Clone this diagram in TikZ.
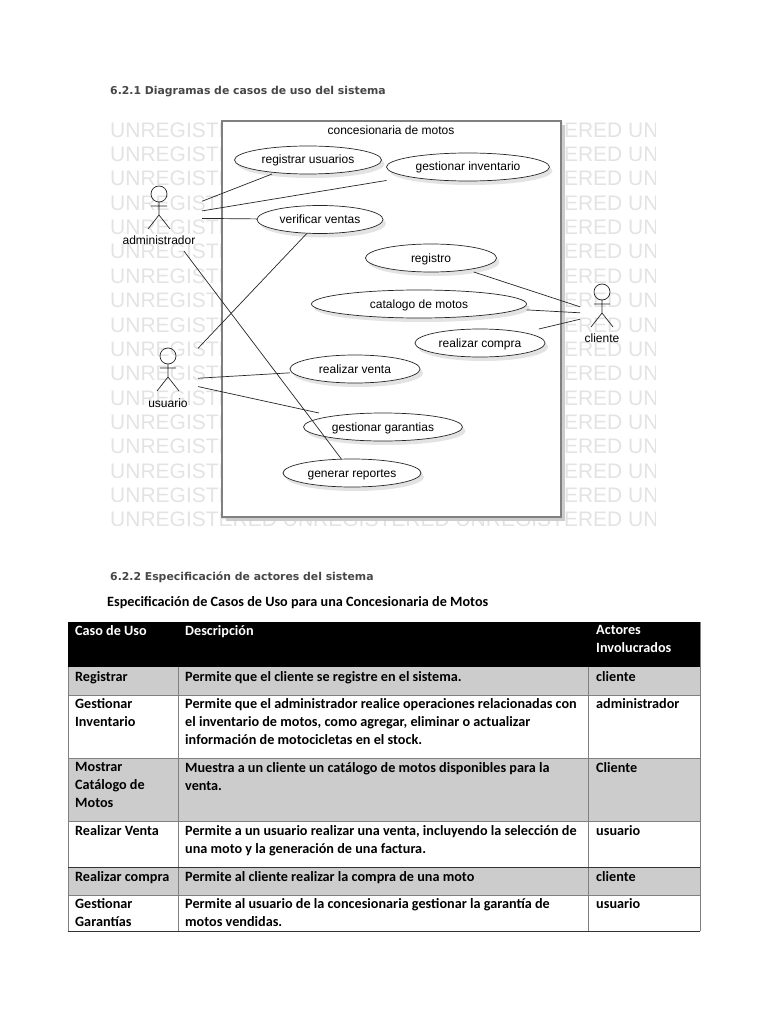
\documentclass[tikz,border=0pt]{standalone}
\usepackage{fontspec}
\setmainfont{Carlito}
\newfontfamily\umlfont{Liberation Sans}
\newfontfamily\headfont{DejaVu Sans}
\usetikzlibrary{shapes.geometric,shadows}
\definecolor{markgray}{gray}{0.89}
\definecolor{rowgray}{gray}{0.8}
\definecolor{linegray}{gray}{0.5}
\tikzset{
  ucoval/.style={ellipse, draw=black!85, fill=white, line width=0.7pt, inner sep=0pt,
    minimum height=28pt,
    drop shadow={shadow xshift=3pt, shadow yshift=-4pt, fill=black!18, opacity=0.6}},
  ucbox/.style={rectangle, inner sep=0pt, outer sep=0pt, minimum height=28pt,
    text height=10pt, text depth=2pt, font=\umlfont\fontsize{12}{14}\selectfont},
  actorbox/.style={rectangle, inner sep=0pt, outer sep=0pt},
  actorname/.style={inner sep=0pt, font=\umlfont\fontsize{12}{14}\selectfont},
  assoc/.style={draw=black!85, line width=0.7pt},
  sechead/.style={anchor=west, inner sep=0pt, text=black!72, font=\headfont\bfseries\fontsize{10.85}{13}\selectfont},
  celltext/.style={anchor=north west, inner sep=0pt, align=left, font=\bfseries\fontsize{14.2}{18}\selectfont},
  headtext/.style={celltext, text=white}
}
% oval under a plain box, the box carries the name for the connectors
\newcommand{\usecase}[5]{%
  \node[ucoval, minimum width=#4pt] (#1oval) at (#2,#3) {};
  \node[ucbox, minimum width=#4pt] (#1) at (#2,#3) {#5};}
\begin{document}
\begin{tikzpicture}[x=1pt, y=-1pt]
\useasboundingbox (0,0) rectangle (768,1024);
\def\markrow{UNREGISTERED UNREGISTERED UNREGISTERED UNREGISTERED}
% Watermark rows
\begin{scope}
  \clip (108,115) rectangle (655,532);
  \foreach \k in {0,...,16}
    \node[anchor=west, inner sep=0pt, text=markgray, font=\umlfont\fontsize{21}{24}\selectfont]
      (mark\k) at (110,{130+24.35*\k}) {\markrow};
\end{scope}
% System frame
\fill[black!20] (226,125) rectangle (565,521);
\draw[linegray, line width=1.6pt, fill=white] (222,121) rectangle (561,517);
\node[inner sep=0pt, font=\umlfont\fontsize{12}{14}\selectfont] (sysname) at (391,130) {concesionaria de motos};
% Use cases
\usecase{regusuarios}{308}{160}{147}{registrar usuarios}
\usecase{inventario}{468}{167}{163}{gestionar inventario}
\usecase{verificar}{320}{219.5}{126}{verificar ventas}
\usecase{registro}{431}{258}{131}{registro}
\usecase{catalogo}{419}{304}{215}{catalogo de motos}
\usecase{compra}{480}{343}{130}{realizar compra}
\usecase{venta}{355}{369}{130}{realizar venta}
\usecase{garantias}{383}{427}{159}{gestionar garantias}
\usecase{reportes}{352}{473}{138}{generar reportes}
% Actors
\node[actorbox, minimum width=86pt, minimum height=66pt] (admin) at (159,218) {};
\node[actorbox, minimum width=60pt, minimum height=64pt] (usuario) at (168,380) {};
\node[actorbox, minimum width=44pt, minimum height=64pt] (cliente) at (602,314) {};
\foreach \who/\cx/\cy in {admin/159/194, usuario/168/356, cliente/602/292}
  \draw[black!85, line width=0.7pt, shift={(\cx,\cy)}]
    (0,0) circle (8) (0,8) -- (0,21) (-8,12) -- (8,12) (-11,35) -- (0,21) -- (11,35);
\node[actorname] (adminname) at (159,240) {administrador};
\node[actorname] (usuarioname) at (168,403) {usuario};
\node[actorname] (clientename) at (602,338) {cliente};
% Associations
\draw[assoc] (admin) -- (regusuarios);
\draw[assoc] (admin) -- (inventario);
\draw[assoc] (admin) -- (verificar);
\draw[assoc] (admin) -- (reportes);
\draw[assoc] (usuario) -- (verificar);
\draw[assoc] (usuario) -- (venta);
\draw[assoc] (usuario) -- (garantias);
\draw[assoc] (cliente) -- (registro);
\draw[assoc] (cliente) -- (catalogo);
\draw[assoc] (cliente) -- (compra);
% Headings
\node[sechead] (head1) at (110,92) {6.2.1 Diagramas de casos de uso del sistema};
\node[sechead] (head2) at (110,577) {6.2.2 Especificaci\'on de actores del sistema};
\node[anchor=west, inner sep=0pt, font=\bfseries\fontsize{14.2}{17}\selectfont] (tabletitle) at (107,603)
  {Especificaci\'on de Casos de Uso para una Concesionaria de Motos};
% Table cells
\fill[black] (68,622) rectangle (700,667);
\fill[rowgray] (68,667) rectangle (700,695);
\fill[rowgray] (68,758) rectangle (700,821);
\fill[rowgray] (68,867) rectangle (700,895);
% Grid lines
\begin{scope}[draw=linegray, line width=0.9pt]
  \foreach \ly in {695,758,821,895}
    \draw (68,\ly) -- (700,\ly);
  \draw (68,667) -- (68,931);
  \draw (178,667) -- (178,931);
  \draw (588,667) -- (588,931);
  \draw (700,622) -- (700,931);
\end{scope}
\draw[black!80, line width=0.9pt] (68,867) -- (700,867);
\draw[black!80, line width=0.9pt] (68,931) -- (700,931);
% Table text
\node[headtext] (h1) at (75,625) {Caso de Uso};
\node[headtext] (h2) at (185,625) {Descripci\'on};
\node[headtext] (h3) at (596,625) {Actores\\Involucrados};
\node[celltext] (a1) at (75,671) {Registrar};
\node[celltext] (b1) at (185,671) {Permite que el cliente se registre en el sistema.};
\node[celltext] (c1) at (596,671) {cliente};
\node[celltext] (a2) at (75,698) {Gestionar\\Inventario};
\node[celltext] (b2) at (185,698) {Permite que el administrador realice operaciones relacionadas con\\el inventario de motos, como agregar, eliminar o actualizar\\informaci\'on de motocicletas en el stock.};
\node[celltext] (c2) at (596,698) {administrador};
\node[celltext] (a3) at (75,762) {Mostrar\\Cat\'alogo de\\Motos};
\node[celltext] (b3) at (185,762) {Muestra a un cliente un cat\'alogo de motos disponibles para la\\venta.};
\node[celltext] (c3) at (596,762) {Cliente};
\node[celltext] (a4) at (75,825) {Realizar Venta};
\node[celltext] (b4) at (185,825) {Permite a un usuario realizar una venta, incluyendo la selecci\'on de\\una moto y la generaci\'on de una factura.};
\node[celltext] (c4) at (596,825) {usuario};
\node[celltext] (a5) at (75,871) {Realizar compra};
\node[celltext] (b5) at (185,871) {Permite al cliente realizar la compra de una moto};
\node[celltext] (c5) at (596,871) {cliente};
\node[celltext] (a6) at (75,898) {Gestionar\\Garant\'ias};
\node[celltext] (b6) at (185,898) {Permite al usuario de la concesionaria gestionar la garant\'ia de\\motos vendidas.};
\node[celltext] (c6) at (596,898) {usuario};
\end{tikzpicture}
\end{document}
